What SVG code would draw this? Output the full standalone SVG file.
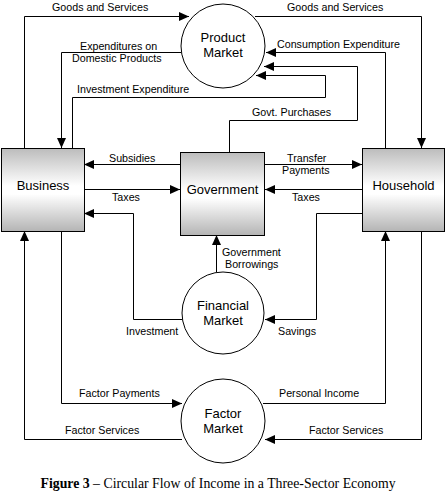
<svg xmlns="http://www.w3.org/2000/svg" width="445" height="499" viewBox="0 0 445 499">
<defs>
<linearGradient id="g" x1="0" y1="0" x2="0" y2="1">
<stop offset="0" stop-color="#bcbcbc"/>
<stop offset="0.45" stop-color="#ffffff"/>
<stop offset="0.55" stop-color="#ffffff"/>
<stop offset="1" stop-color="#b4b4b4"/>
</linearGradient>
<marker id="a" markerUnits="userSpaceOnUse" markerWidth="10" markerHeight="10" viewBox="0 0 10 10" refX="10" refY="5" orient="auto">
<path d="M0,0.5 L10,5 L0,9.5 Z" fill="#000"/>
</marker>
<style>
.c{fill:none;stroke:#000;stroke-width:1;marker-end:url(#a)}
.n{stroke:#000;stroke-width:1}
.m{fill:#fff;stroke:#000;stroke-width:1}
text{font-family:"Liberation Sans",Arial,sans-serif;fill:#000}
.s{font-size:10.7px}
.b{font-size:13px;text-anchor:middle}
.cap{font-family:"Liberation Serif","Times New Roman",serif;font-size:13.8px;text-anchor:middle}
</style>
</defs>
<rect width="445" height="499" fill="#fff"/>
<g id="connectors">
<path class="c" d="M24.5,148 V16.5 H189"/>
<path class="c" d="M255,16.5 H421.5 V148"/>
<path class="c" d="M181,52.5 H61.5 V148"/>
<path class="c" d="M72.5,148 V97.5 H325.5 V75.5 H256"/>
<path class="c" d="M229.5,152 V120.5 H357.5 V66.5 H264"/>
<path class="c" d="M385.5,148 V52.5 H266"/>
<path class="c" d="M180,164.5 H84"/>
<path class="c" d="M84,189.5 H180"/>
<path class="c" d="M265,164.5 H362"/>
<path class="c" d="M362,189.5 H265"/>
<path class="c" d="M182,319.5 H133.5 V213.5 H84"/>
<path class="c" d="M362,213.5 H316.5 V319.5 H265"/>
<path class="c" d="M216.5,272 V235"/>
<path class="c" d="M61.5,231 V403.5 H182"/>
<path class="c" d="M263,403.5 H385.5 V231"/>
<path class="c" d="M182,439.5 H24.5 V231"/>
<path class="c" d="M421.5,231 V439.5 H265"/>
</g>
<g id="product-market">
<circle class="m" cx="223" cy="46" r="42"/>
<text class="b" x="223" y="42">Product</text>
<text class="b" x="223" y="57">Market</text>
</g>
<g id="business">
<rect class="n" x="1.5" y="148.5" width="83" height="83" fill="url(#g)"/>
<text class="b" x="43" y="190">Business</text>
</g>
<g id="government">
<rect class="n" x="180.5" y="152.5" width="84" height="83" fill="url(#g)"/>
<text class="b" x="222.5" y="194">Government</text>
</g>
<g id="household">
<rect class="n" x="362.5" y="148.5" width="82" height="83" fill="url(#g)"/>
<text class="b" x="403.5" y="190">Household</text>
</g>
<g id="financial-market">
<circle class="m" cx="223" cy="313" r="41"/>
<text class="b" x="223" y="310">Financial</text>
<text class="b" x="223" y="325">Market</text>
</g>
<g id="factor-market">
<circle class="m" cx="223" cy="421" r="42"/>
<text class="b" x="223" y="418">Factor</text>
<text class="b" x="223" y="433">Market</text>
</g>
<g id="labels">
<text class="s" x="52" y="11">Goods and Services</text>
<text class="s" x="287" y="11">Goods and Services</text>
<text class="s" x="80" y="50">Expenditures on</text>
<text class="s" x="72" y="62">Domestic Products</text>
<text class="s" x="277" y="48">Consumption Expenditure</text>
<text class="s" x="77" y="93">Investment Expenditure</text>
<text class="s" x="252" y="116">Govt. Purchases</text>
<text class="s" x="109" y="162">Subsidies</text>
<text class="s" x="287" y="162">Transfer</text>
<text class="s" x="282" y="174">Payments</text>
<text class="s" x="112" y="201">Taxes</text>
<text class="s" x="292" y="201">Taxes</text>
<text class="s" x="222" y="256">Government</text>
<text class="s" x="225" y="268">Borrowings</text>
<text class="s" x="126" y="335">Investment</text>
<text class="s" x="278" y="335">Savings</text>
<text class="s" x="79" y="397">Factor Payments</text>
<text class="s" x="279" y="397">Personal Income</text>
<text class="s" x="65" y="434">Factor Services</text>
<text class="s" x="309" y="434">Factor Services</text>
</g>
<text class="cap" x="218" y="488"><tspan font-weight="bold">Figure 3</tspan> – Circular Flow of Income in a Three-Sector Economy</text>
</svg>
